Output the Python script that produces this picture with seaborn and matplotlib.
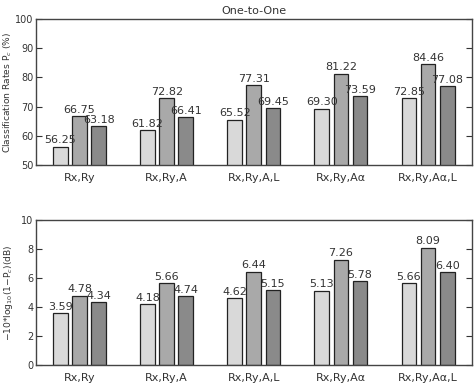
import numpy as np
import pandas as pd
import seaborn as sns
import matplotlib.pyplot as plt

# feature sets and the three classifier series
groups = ["Rx,Ry", "Rx,Ry,A", "Rx,Ry,A,L", "Rx,Ry,A\u03b1", "Rx,Ry,A\u03b1,L"]
series = ["s1", "s2", "s3"]
rates = {
    "s1": [56.25, 61.82, 65.52, 69.30, 72.85],
    "s2": [66.75, 72.82, 77.31, 81.22, 84.46],
    "s3": [63.18, 66.41, 69.45, 73.59, 77.08],
}
db = {
    "s1": [3.59, 4.18, 4.62, 5.13, 5.66],
    "s2": [4.78, 5.66, 6.44, 7.26, 8.09],
    "s3": [4.34, 4.74, 5.15, 5.78, 6.40],
}

def to_long(d):
    rows = []
    for s in series:
        for g, v in zip(groups, d[s]):
            rows.append({"group": g, "series": s, "value": v})
    return pd.DataFrame(rows)

sns.set_style("ticks")
plt.rcParams["font.family"] = ["DejaVu Sans"]

fig = plt.figure(figsize=(4.74, 3.89), dpi=100)
ax1 = fig.add_axes([0.076, 0.576, 0.919, 0.375])
ax2 = fig.add_axes([0.076, 0.062, 0.919, 0.372])

colors = ["#d9d9d9", "#a9a9a9", "#8a8a8a"]

for ax, d, ylim, yticks, ylab in [
    (ax1, rates, (50, 100), [50, 60, 70, 80, 90, 100], "Classification Rates P$_c$ (%)"),
    (ax2, db, (0, 10), [0, 2, 4, 6, 8, 10], "\u221210*log$_{10}$(1\u2212P$_c$)(dB)"),
]:
    df = to_long(d)
    sns.barplot(data=df, x="group", y="value", hue="series", order=groups,
                hue_order=series, palette=colors, width=0.66, gap=0.23,
                edgecolor="#222222", linewidth=0.9, legend=False, ax=ax)
    for cont in ax.containers:
        ax.bar_label(cont, labels=["{:.2f}".format(v) for v in cont.datavalues],
                     padding=1, fontsize=8, color="#333333")
    ax.set_ylim(*ylim)
    ax.set_xlim(-0.5, 4.5)
    ax.set_yticks(yticks)
    ax.set_xlabel("")
    ax.set_ylabel(ylab, fontsize=6.6, color="#333333", va="center")
    ax.yaxis.set_label_coords(-0.064, 0.5)
    ax.tick_params(axis="y", direction="in", right=True, labelsize=7, length=4,
                   pad=2, colors="#333333")
    ax.tick_params(axis="x", length=0, labelsize=8, pad=6, colors="#333333")
    for sp in ax.spines.values():
        sp.set_visible(True)
        sp.set_color("#444444")
        sp.set_linewidth(1.0)

ax1.set_title("One-to-One", fontsize=8, color="#333333", pad=4)

fig.savefig("out.png", dpi=100)
